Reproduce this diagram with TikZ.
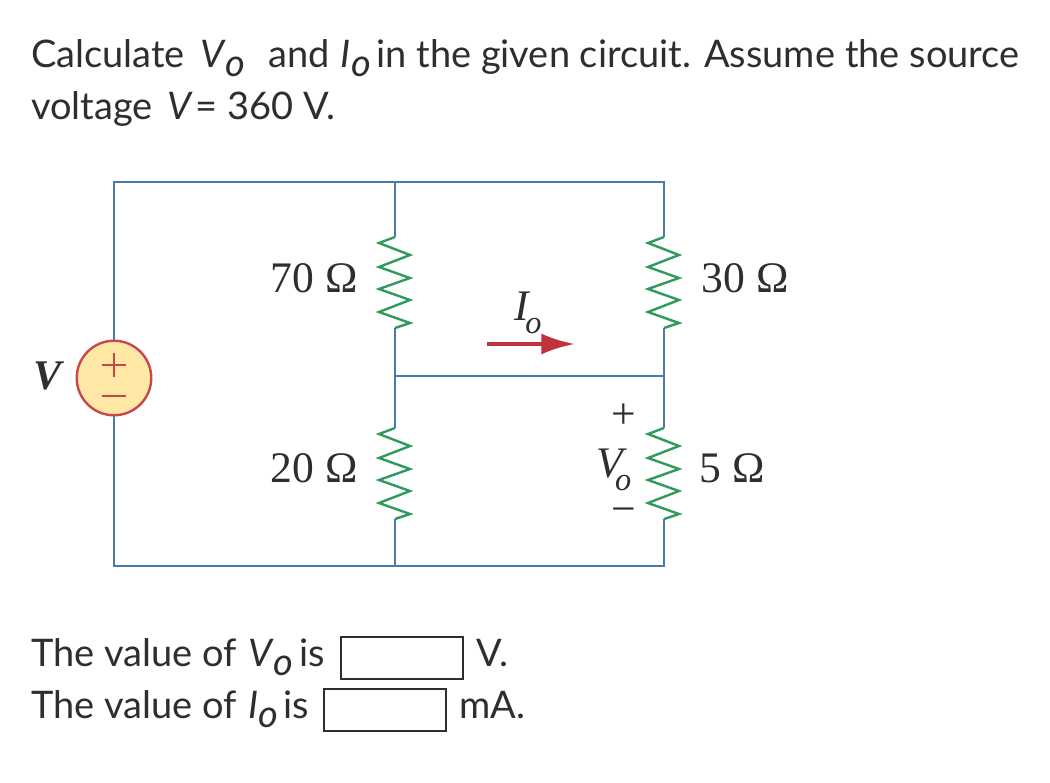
\documentclass[tikz,border=0pt]{standalone}
\usepackage{fontspec}
\setmainfont{Lato}
\newfontfamily\circfont{Liberation Serif}
\usetikzlibrary{arrows.meta,positioning}
\definecolor{wireblue}{HTML}{4A7BA8}
\definecolor{resgreen}{HTML}{2E9A5B}
\definecolor{srcred}{HTML}{C8474A}
\definecolor{srcfill}{HTML}{FFE7A6}
\definecolor{arrred}{HTML}{C2323C}
\definecolor{inkgray}{HTML}{2E2E2E}
\newcommand{\subo}{\raisebox{-0.26em}{\textit{o}}}
\newcommand{\circo}{\raisebox{-0.3em}{\fontsize{23}{23}\selectfont\textit{o}}}
\tikzset{
    wire/.style={draw=wireblue,line width=1.5pt},
    srcmark/.style={draw=srcred,line width=1.7pt},
    bodytext/.style={anchor=base west,inner sep=0pt,text=inkgray,font=\fontsize{27}{30}\selectfont},
    circlabel/.style={inner sep=0pt,text=inkgray,font=\circfont\fontsize{31}{36}\selectfont},
    answerbox/.style={draw=inkgray,line width=1.4pt,anchor=north west,inner sep=0pt,minimum width=87pt,minimum height=30pt},
    resistor/.pic={
        \coordinate (-top) at (0,0);
        \coordinate (-bot) at (0,91);
        \draw[draw=resgreen,line width=1.7pt]
            (0,0) -- (-16,6) -- (15,18) -- (-16,30) -- (15,41) -- (-16,52)
            -- (15,63) -- (-16,75) -- (15,86) -- (0,91);
    }
}

\begin{document}
\begin{tikzpicture}[x=0.025cm,y=-0.025cm]
    \useasboundingbox (0,0) rectangle (1050,782);
    % question text
    \node[bodytext] (line1) at (31,67) {Calculate\hspace{0.4em}\textit{V}\subo\hspace{0.6em}and\hspace{0.3em}\textit{I}\subo\hspace{0.15em}in the given circuit. Assume the source};
    \node[bodytext] (line2) at (31,119) {voltage\hspace{0.4em}\textit{V}\hspace{0.05em}= 360 V.};
    % corners
    \coordinate (tl) at (114,182);
    \coordinate (tm) at (395,182);
    \coordinate (tr) at (664,182);
    \coordinate (bl) at (114,566);
    \coordinate (bm) at (395,566);
    \coordinate (br) at (664,566);
    \coordinate (jm) at (395,376);
    \coordinate (jr) at (664,376);
    % resistors
    \pic (rseventy) at (395,237) {resistor};
    \pic (rtwenty) at (395,428) {resistor};
    \pic (rthirty) at (664,237) {resistor};
    \pic (rfive) at (664,428) {resistor};
    % source
    \node[circle,draw=srcred,fill=srcfill,line width=1.7pt,minimum size=53pt,inner sep=0pt] (src) at (114,378) {};
    \draw[srcmark] (102,365) -- (126,365);
    \draw[srcmark] (114,353) -- (114,377);
    \draw[srcmark] (102,396) -- (126,396);
    % wires
    \draw[wire] (src) -- (tl) -- (tr) -- (rthirty-top);
    \draw[wire] (src) -- (bl) -- (br) -- (rfive-bot);
    \draw[wire] (tm) -- (rseventy-top);
    \draw[wire] (rseventy-bot) -- (jm) -- (rtwenty-top);
    \draw[wire] (rtwenty-bot) -- (bm);
    \draw[wire] (rthirty-bot) -- (jr) -- (rfive-top);
    \draw[wire] (jm) -- (jr);
    % current arrow
    \coordinate (ioa) at (487,344);
    \coordinate (iob) at (575,344);
    \draw[draw=arrred,line width=3pt,-{Latex[length=24pt,width=15pt,fill=arrred]}] (ioa) -- (iob);
    % labels
    \node[circlabel,font=\circfont\bfseries\fontsize{30}{36}\selectfont] (vlabel) at (49,376) {\textit{V}};
    \node[circlabel] (lseventy) at (314,278) {70 Ω};
    \node[circlabel] (ltwenty) at (314,468) {20 Ω};
    \node[circlabel] (lthirty) at (745,278) {30 Ω};
    \node[circlabel] (lfive) at (732,468) {5 Ω};
    \node[circlabel] (lio) at (528,313) {\textit{I}\kern-0.12em\circo};
    \node[circlabel] (lvo) at (614,470) {\textit{V}\kern-0.28em\circo};
    \node[circlabel] (lplus) at (624,416) {+};
    \node[circlabel] (lminus) at (624,516) {\textminus};
    % answers
    \node[bodytext] (ansv) at (31,666) {The value of\hspace{0.3em}\textit{V}\subo\hspace{0.15em}is};
    \node[answerbox] (boxv) at (340,636) {};
    \node[bodytext] (unitv) at (476,666) {V.};
    \node[bodytext] (ansi) at (31,718) {The value of\hspace{0.3em}\textit{I}\subo\hspace{0.15em}is};
    \node[answerbox] (boxi) at (323,688) {};
    \node[bodytext] (uniti) at (459,718) {mA.};
\end{tikzpicture}
\end{document}
